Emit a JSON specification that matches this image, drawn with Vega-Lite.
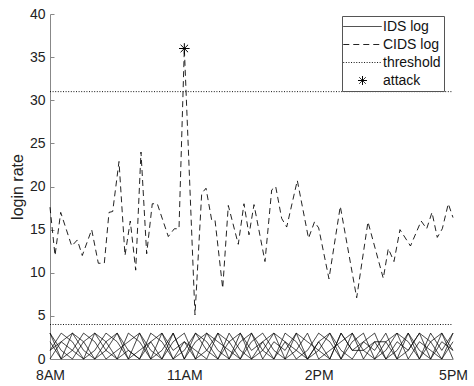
{
  "$schema": "https://vega.github.io/schema/vega-lite/v6.json",
  "width": 403,
  "height": 345,
  "autosize": "none",
  "padding": {"left": 50, "top": 14, "right": 21, "bottom": 27},
  "background": "white",
  "config": {
    "view": {"stroke": null},
    "font": "Liberation Sans",
    "axis": {"labelFont": "Liberation Sans", "titleFont": "Liberation Sans", "labelFontSize": 14, "titleFontSize": 16, "labelColor": "#222", "titleColor": "#222", "titleFontWeight": "normal", "domainColor": "#888", "tickColor": "#888", "grid": false},
    "legend": {"labelFont": "Liberation Sans", "labelFontSize": 14, "labelColor": "#111"}
  },
  "datasets": {
    "lines": [
      {"t":8,"v":31,"s":"threshold","g":"t1"},{"t":17,"v":31,"s":"threshold","g":"t1"},
      {"t":8,"v":4,"s":"threshold","g":"t2"},{"t":17,"v":4,"s":"threshold","g":"t2"},
      {"t":8.000,"v":17.6,"s":"CIDS log","g":"c"},
      {"t":8.112,"v":12.0,"s":"CIDS log","g":"c"},
      {"t":8.239,"v":17.0,"s":"CIDS log","g":"c"},
      {"t":8.485,"v":13.1,"s":"CIDS log","g":"c"},
      {"t":8.610,"v":13.8,"s":"CIDS log","g":"c"},
      {"t":8.721,"v":12.0,"s":"CIDS log","g":"c"},
      {"t":8.931,"v":15.0,"s":"CIDS log","g":"c"},
      {"t":9.079,"v":11.1,"s":"CIDS log","g":"c"},
      {"t":9.213,"v":11.1,"s":"CIDS log","g":"c"},
      {"t":9.318,"v":17.0,"s":"CIDS log","g":"c"},
      {"t":9.400,"v":17.1,"s":"CIDS log","g":"c"},
      {"t":9.541,"v":22.9,"s":"CIDS log","g":"c"},
      {"t":9.675,"v":12.0,"s":"CIDS log","g":"c"},
      {"t":9.793,"v":16.0,"s":"CIDS log","g":"c"},
      {"t":9.914,"v":10.3,"s":"CIDS log","g":"c"},
      {"t":10.032,"v":24.0,"s":"CIDS log","g":"c"},
      {"t":10.159,"v":12.2,"s":"CIDS log","g":"c"},
      {"t":10.284,"v":18.0,"s":"CIDS log","g":"c"},
      {"t":10.396,"v":18.0,"s":"CIDS log","g":"c"},
      {"t":10.642,"v":14.2,"s":"CIDS log","g":"c"},
      {"t":10.776,"v":15.1,"s":"CIDS log","g":"c"},
      {"t":10.881,"v":15.1,"s":"CIDS log","g":"c"},
      {"t":11.000,"v":36.0,"s":"CIDS log","g":"c"},
      {"t":11.238,"v":5.1,"s":"CIDS log","g":"c"},
      {"t":11.388,"v":19.2,"s":"CIDS log","g":"c"},
      {"t":11.484,"v":19.8,"s":"CIDS log","g":"c"},
      {"t":11.611,"v":16.1,"s":"CIDS log","g":"c"},
      {"t":11.685,"v":16.1,"s":"CIDS log","g":"c"},
      {"t":11.857,"v":8.2,"s":"CIDS log","g":"c"},
      {"t":11.982,"v":17.8,"s":"CIDS log","g":"c"},
      {"t":12.205,"v":13.3,"s":"CIDS log","g":"c"},
      {"t":12.332,"v":18.0,"s":"CIDS log","g":"c"},
      {"t":12.444,"v":14.4,"s":"CIDS log","g":"c"},
      {"t":12.556,"v":17.9,"s":"CIDS log","g":"c"},
      {"t":12.801,"v":11.3,"s":"CIDS log","g":"c"},
      {"t":12.951,"v":19.6,"s":"CIDS log","g":"c"},
      {"t":13.040,"v":20.0,"s":"CIDS log","g":"c"},
      {"t":13.174,"v":16.3,"s":"CIDS log","g":"c"},
      {"t":13.286,"v":15.3,"s":"CIDS log","g":"c"},
      {"t":13.523,"v":20.7,"s":"CIDS log","g":"c"},
      {"t":13.773,"v":14.0,"s":"CIDS log","g":"c"},
      {"t":13.907,"v":15.9,"s":"CIDS log","g":"c"},
      {"t":14.000,"v":15.2,"s":"CIDS log","g":"c"},
      {"t":14.230,"v":9.3,"s":"CIDS log","g":"c"},
      {"t":14.483,"v":17.7,"s":"CIDS log","g":"c"},
      {"t":14.849,"v":7.1,"s":"CIDS log","g":"c"},
      {"t":15.101,"v":15.9,"s":"CIDS log","g":"c"},
      {"t":15.443,"v":9.35,"s":"CIDS log","g":"c"},
      {"t":15.555,"v":12.8,"s":"CIDS log","g":"c"},
      {"t":15.682,"v":11.3,"s":"CIDS log","g":"c"},
      {"t":15.816,"v":15.0,"s":"CIDS log","g":"c"},
      {"t":16.050,"v":13.1,"s":"CIDS log","g":"c"},
      {"t":16.289,"v":16.0,"s":"CIDS log","g":"c"},
      {"t":16.412,"v":15.1,"s":"CIDS log","g":"c"},
      {"t":16.531,"v":17.0,"s":"CIDS log","g":"c"},
      {"t":16.649,"v":14.1,"s":"CIDS log","g":"c"},
      {"t":16.761,"v":15.1,"s":"CIDS log","g":"c"},
      {"t":16.895,"v":18.0,"s":"CIDS log","g":"c"},
      {"t":17.000,"v":16.4,"s":"CIDS log","g":"c"},

      {"t":8,"v":3,"s":"IDS log","g":"i1"},{"t":8.25,"v":1,"s":"IDS log","g":"i1"},{"t":8.5,"v":0,"s":"IDS log","g":"i1"},{"t":8.75,"v":2,"s":"IDS log","g":"i1"},{"t":9,"v":3,"s":"IDS log","g":"i1"},{"t":9.25,"v":1,"s":"IDS log","g":"i1"},{"t":9.5,"v":0,"s":"IDS log","g":"i1"},{"t":9.75,"v":3,"s":"IDS log","g":"i1"},{"t":10,"v":2,"s":"IDS log","g":"i1"},{"t":10.25,"v":0,"s":"IDS log","g":"i1"},
      {"t":10.5,"v":1,"s":"IDS log","g":"i1"},{"t":10.75,"v":3,"s":"IDS log","g":"i1"},{"t":11,"v":0,"s":"IDS log","g":"i1"},{"t":11.25,"v":2,"s":"IDS log","g":"i1"},{"t":11.5,"v":3,"s":"IDS log","g":"i1"},{"t":11.75,"v":1,"s":"IDS log","g":"i1"},{"t":12,"v":0,"s":"IDS log","g":"i1"},{"t":12.25,"v":3,"s":"IDS log","g":"i1"},{"t":12.5,"v":1,"s":"IDS log","g":"i1"},{"t":12.75,"v":2,"s":"IDS log","g":"i1"},
      {"t":13,"v":0,"s":"IDS log","g":"i1"},{"t":13.25,"v":3,"s":"IDS log","g":"i1"},{"t":13.5,"v":2,"s":"IDS log","g":"i1"},{"t":13.75,"v":0,"s":"IDS log","g":"i1"},{"t":14,"v":1,"s":"IDS log","g":"i1"},{"t":14.25,"v":3,"s":"IDS log","g":"i1"},{"t":14.5,"v":0,"s":"IDS log","g":"i1"},{"t":14.75,"v":2,"s":"IDS log","g":"i1"},{"t":15,"v":3,"s":"IDS log","g":"i1"},{"t":15.25,"v":0,"s":"IDS log","g":"i1"},
      {"t":15.5,"v":1,"s":"IDS log","g":"i1"},{"t":15.75,"v":3,"s":"IDS log","g":"i1"},{"t":16,"v":2,"s":"IDS log","g":"i1"},{"t":16.25,"v":0,"s":"IDS log","g":"i1"},{"t":16.5,"v":3,"s":"IDS log","g":"i1"},{"t":16.75,"v":1,"s":"IDS log","g":"i1"},{"t":17,"v":3,"s":"IDS log","g":"i1"},

      {"t":8,"v":1,"s":"IDS log","g":"i2"},{"t":8.25,"v":3,"s":"IDS log","g":"i2"},{"t":8.5,"v":2,"s":"IDS log","g":"i2"},{"t":8.75,"v":0,"s":"IDS log","g":"i2"},{"t":9,"v":1,"s":"IDS log","g":"i2"},{"t":9.25,"v":3,"s":"IDS log","g":"i2"},{"t":9.5,"v":2,"s":"IDS log","g":"i2"},{"t":9.75,"v":0,"s":"IDS log","g":"i2"},{"t":10,"v":3,"s":"IDS log","g":"i2"},{"t":10.25,"v":1,"s":"IDS log","g":"i2"},
      {"t":10.5,"v":0,"s":"IDS log","g":"i2"},{"t":10.75,"v":2,"s":"IDS log","g":"i2"},{"t":11,"v":3,"s":"IDS log","g":"i2"},{"t":11.25,"v":0,"s":"IDS log","g":"i2"},{"t":11.5,"v":1,"s":"IDS log","g":"i2"},{"t":11.75,"v":3,"s":"IDS log","g":"i2"},{"t":12,"v":2,"s":"IDS log","g":"i2"},{"t":12.25,"v":0,"s":"IDS log","g":"i2"},{"t":12.5,"v":3,"s":"IDS log","g":"i2"},{"t":12.75,"v":0,"s":"IDS log","g":"i2"},
      {"t":13,"v":2,"s":"IDS log","g":"i2"},{"t":13.25,"v":1,"s":"IDS log","g":"i2"},{"t":13.5,"v":3,"s":"IDS log","g":"i2"},{"t":13.75,"v":0,"s":"IDS log","g":"i2"},{"t":14,"v":2,"s":"IDS log","g":"i2"},{"t":14.25,"v":3,"s":"IDS log","g":"i2"},{"t":14.5,"v":1,"s":"IDS log","g":"i2"},{"t":14.75,"v":0,"s":"IDS log","g":"i2"},{"t":15,"v":2,"s":"IDS log","g":"i2"},{"t":15.25,"v":1,"s":"IDS log","g":"i2"},
      {"t":15.5,"v":3,"s":"IDS log","g":"i2"},{"t":15.75,"v":0,"s":"IDS log","g":"i2"},{"t":16,"v":1,"s":"IDS log","g":"i2"},{"t":16.25,"v":3,"s":"IDS log","g":"i2"},{"t":16.5,"v":0,"s":"IDS log","g":"i2"},{"t":16.75,"v":2,"s":"IDS log","g":"i2"},{"t":17,"v":1,"s":"IDS log","g":"i2"},

      {"t":8,"v":2,"s":"IDS log","g":"i3"},{"t":8.25,"v":0,"s":"IDS log","g":"i3"},{"t":8.5,"v":3,"s":"IDS log","g":"i3"},{"t":8.75,"v":1,"s":"IDS log","g":"i3"},{"t":9,"v":0,"s":"IDS log","g":"i3"},{"t":9.25,"v":2,"s":"IDS log","g":"i3"},{"t":9.5,"v":3,"s":"IDS log","g":"i3"},{"t":9.75,"v":1,"s":"IDS log","g":"i3"},{"t":10,"v":0,"s":"IDS log","g":"i3"},{"t":10.25,"v":3,"s":"IDS log","g":"i3"},
      {"t":10.5,"v":2,"s":"IDS log","g":"i3"},{"t":10.75,"v":0,"s":"IDS log","g":"i3"},{"t":11,"v":1,"s":"IDS log","g":"i3"},{"t":11.25,"v":3,"s":"IDS log","g":"i3"},{"t":11.5,"v":2,"s":"IDS log","g":"i3"},{"t":11.75,"v":0,"s":"IDS log","g":"i3"},{"t":12,"v":3,"s":"IDS log","g":"i3"},{"t":12.25,"v":1,"s":"IDS log","g":"i3"},{"t":12.5,"v":0,"s":"IDS log","g":"i3"},{"t":12.75,"v":2,"s":"IDS log","g":"i3"},
      {"t":13,"v":3,"s":"IDS log","g":"i3"},{"t":13.25,"v":0,"s":"IDS log","g":"i3"},{"t":13.5,"v":1,"s":"IDS log","g":"i3"},{"t":13.75,"v":3,"s":"IDS log","g":"i3"},{"t":14,"v":0,"s":"IDS log","g":"i3"},{"t":14.25,"v":1,"s":"IDS log","g":"i3"},{"t":14.5,"v":2,"s":"IDS log","g":"i3"},{"t":14.75,"v":3,"s":"IDS log","g":"i3"},{"t":15,"v":0,"s":"IDS log","g":"i3"},{"t":15.25,"v":2,"s":"IDS log","g":"i3"},
      {"t":15.5,"v":0,"s":"IDS log","g":"i3"},{"t":15.75,"v":1,"s":"IDS log","g":"i3"},{"t":16,"v":3,"s":"IDS log","g":"i3"},{"t":16.25,"v":0,"s":"IDS log","g":"i3"},{"t":16.5,"v":2,"s":"IDS log","g":"i3"},{"t":16.75,"v":3,"s":"IDS log","g":"i3"},{"t":17,"v":0,"s":"IDS log","g":"i3"},

      {"t":8,"v":0,"s":"IDS log","g":"i4"},{"t":8.25,"v":2,"s":"IDS log","g":"i4"},{"t":8.5,"v":1,"s":"IDS log","g":"i4"},{"t":8.75,"v":3,"s":"IDS log","g":"i4"},{"t":9,"v":2,"s":"IDS log","g":"i4"},{"t":9.25,"v":0,"s":"IDS log","g":"i4"},{"t":9.5,"v":1,"s":"IDS log","g":"i4"},{"t":9.75,"v":2,"s":"IDS log","g":"i4"},{"t":10,"v":3,"s":"IDS log","g":"i4"},{"t":10.25,"v":0,"s":"IDS log","g":"i4"},
      {"t":10.5,"v":3,"s":"IDS log","g":"i4"},{"t":10.75,"v":1,"s":"IDS log","g":"i4"},{"t":11,"v":2,"s":"IDS log","g":"i4"},{"t":11.25,"v":0,"s":"IDS log","g":"i4"},{"t":11.5,"v":3,"s":"IDS log","g":"i4"},{"t":11.75,"v":2,"s":"IDS log","g":"i4"},{"t":12,"v":1,"s":"IDS log","g":"i4"},{"t":12.25,"v":0,"s":"IDS log","g":"i4"},{"t":12.5,"v":2,"s":"IDS log","g":"i4"},{"t":12.75,"v":3,"s":"IDS log","g":"i4"},
      {"t":13,"v":1,"s":"IDS log","g":"i4"},{"t":13.25,"v":0,"s":"IDS log","g":"i4"},{"t":13.5,"v":3,"s":"IDS log","g":"i4"},{"t":13.75,"v":2,"s":"IDS log","g":"i4"},{"t":14,"v":1,"s":"IDS log","g":"i4"},{"t":14.25,"v":0,"s":"IDS log","g":"i4"},{"t":14.5,"v":3,"s":"IDS log","g":"i4"},{"t":14.75,"v":1,"s":"IDS log","g":"i4"},{"t":15,"v":1,"s":"IDS log","g":"i4"},{"t":15.25,"v":2,"s":"IDS log","g":"i4"},
      {"t":15.5,"v":2,"s":"IDS log","g":"i4"},{"t":15.75,"v":3,"s":"IDS log","g":"i4"},{"t":16,"v":0,"s":"IDS log","g":"i4"},{"t":16.25,"v":2,"s":"IDS log","g":"i4"},{"t":16.5,"v":1,"s":"IDS log","g":"i4"},{"t":16.75,"v":0,"s":"IDS log","g":"i4"},{"t":17,"v":2,"s":"IDS log","g":"i4"},

      {"t":8,"v":3,"s":"IDS log","g":"i5"},{"t":8.25,"v":0,"s":"IDS log","g":"i5"},{"t":8.5,"v":1,"s":"IDS log","g":"i5"},{"t":8.75,"v":0,"s":"IDS log","g":"i5"},{"t":9,"v":3,"s":"IDS log","g":"i5"},{"t":9.25,"v":2,"s":"IDS log","g":"i5"},{"t":9.5,"v":0,"s":"IDS log","g":"i5"},{"t":9.75,"v":1,"s":"IDS log","g":"i5"},{"t":10,"v":0,"s":"IDS log","g":"i5"},{"t":10.25,"v":2,"s":"IDS log","g":"i5"},
      {"t":10.5,"v":3,"s":"IDS log","g":"i5"},{"t":10.75,"v":0,"s":"IDS log","g":"i5"},{"t":11,"v":2,"s":"IDS log","g":"i5"},{"t":11.25,"v":1,"s":"IDS log","g":"i5"},{"t":11.5,"v":0,"s":"IDS log","g":"i5"},{"t":11.75,"v":3,"s":"IDS log","g":"i5"},{"t":12,"v":0,"s":"IDS log","g":"i5"},{"t":12.25,"v":2,"s":"IDS log","g":"i5"},{"t":12.5,"v":3,"s":"IDS log","g":"i5"},{"t":12.75,"v":1,"s":"IDS log","g":"i5"},
      {"t":13,"v":0,"s":"IDS log","g":"i5"},{"t":13.25,"v":2,"s":"IDS log","g":"i5"},{"t":13.5,"v":0,"s":"IDS log","g":"i5"},{"t":13.75,"v":1,"s":"IDS log","g":"i5"},{"t":14,"v":3,"s":"IDS log","g":"i5"},{"t":14.25,"v":2,"s":"IDS log","g":"i5"},{"t":14.5,"v":0,"s":"IDS log","g":"i5"},{"t":14.75,"v":3,"s":"IDS log","g":"i5"},{"t":15,"v":1,"s":"IDS log","g":"i5"},{"t":15.25,"v":0,"s":"IDS log","g":"i5"},
      {"t":15.5,"v":2,"s":"IDS log","g":"i5"},{"t":15.75,"v":0,"s":"IDS log","g":"i5"},{"t":16,"v":3,"s":"IDS log","g":"i5"},{"t":16.25,"v":1,"s":"IDS log","g":"i5"},{"t":16.5,"v":0,"s":"IDS log","g":"i5"},{"t":16.75,"v":3,"s":"IDS log","g":"i5"},{"t":17,"v":1,"s":"IDS log","g":"i5"},

      {"t":8,"v":1,"s":"IDS log","g":"i6"},{"t":8.25,"v":2,"s":"IDS log","g":"i6"},{"t":8.5,"v":3,"s":"IDS log","g":"i6"},{"t":8.75,"v":2,"s":"IDS log","g":"i6"},{"t":9,"v":0,"s":"IDS log","g":"i6"},{"t":9.25,"v":1,"s":"IDS log","g":"i6"},{"t":9.5,"v":3,"s":"IDS log","g":"i6"},{"t":9.75,"v":0,"s":"IDS log","g":"i6"},{"t":10,"v":1,"s":"IDS log","g":"i6"},{"t":10.25,"v":2,"s":"IDS log","g":"i6"},
      {"t":10.5,"v":0,"s":"IDS log","g":"i6"},{"t":10.75,"v":3,"s":"IDS log","g":"i6"},{"t":11,"v":0,"s":"IDS log","g":"i6"},{"t":11.25,"v":3,"s":"IDS log","g":"i6"},{"t":11.5,"v":1,"s":"IDS log","g":"i6"},{"t":11.75,"v":0,"s":"IDS log","g":"i6"},{"t":12,"v":2,"s":"IDS log","g":"i6"},{"t":12.25,"v":3,"s":"IDS log","g":"i6"},{"t":12.5,"v":0,"s":"IDS log","g":"i6"},{"t":12.75,"v":1,"s":"IDS log","g":"i6"},
      {"t":13,"v":3,"s":"IDS log","g":"i6"},{"t":13.25,"v":2,"s":"IDS log","g":"i6"},{"t":13.5,"v":1,"s":"IDS log","g":"i6"},{"t":13.75,"v":0,"s":"IDS log","g":"i6"},{"t":14,"v":2,"s":"IDS log","g":"i6"},{"t":14.25,"v":0,"s":"IDS log","g":"i6"},{"t":14.5,"v":3,"s":"IDS log","g":"i6"},{"t":14.75,"v":1,"s":"IDS log","g":"i6"},{"t":15,"v":2,"s":"IDS log","g":"i6"},{"t":15.25,"v":3,"s":"IDS log","g":"i6"},
      {"t":15.5,"v":0,"s":"IDS log","g":"i6"},{"t":15.75,"v":2,"s":"IDS log","g":"i6"},{"t":16,"v":1,"s":"IDS log","g":"i6"},{"t":16.25,"v":3,"s":"IDS log","g":"i6"},{"t":16.5,"v":2,"s":"IDS log","g":"i6"},{"t":16.75,"v":0,"s":"IDS log","g":"i6"},{"t":17,"v":3,"s":"IDS log","g":"i6"}
    ],
    "attack": [
      {"t":11,"v":36,"s":"attack"}
    ]
  },
  "layer": [
    {
      "data": {"name": "lines"},
      "mark": {"type": "line", "color": "black", "clip": false},
      "encoding": {
        "x": {"field": "t", "type": "quantitative", "scale": {"domain": [8, 17], "nice": false, "zero": false},
              "axis": {"title": null, "values": [8, 11, 14, 17], "ticks": false, "labelPadding": 9, "labelFlush": false, "labelFontSize": 14,
                       "labelExpr": "datum.value == 8 ? '8AM' : datum.value == 11 ? '11AM' : datum.value == 14 ? '2PM' : '5PM'"}},
        "y": {"field": "v", "type": "quantitative", "scale": {"domain": [0, 40], "nice": false},
              "axis": {"title": "login rate", "titleFontSize": 16, "titleFontWeight": "normal", "titleColor": "#222", "values": [0,5,10,15,20,25,30,35,40], "tickSize": -4, "labelPadding": 9, "labelFontSize": 14, "titlePadding": 4}},
        "detail": {"field": "g"},
        "strokeDash": {"field": "s", "type": "nominal",
                       "scale": {"domain": ["IDS log", "CIDS log", "threshold", "attack"], "range": [[1, 0], [6, 4], [1, 1.6], [1, 0]]},
                       "legend": {"title": null, "orient": "none", "legendX": 292, "legendY": 2, "padding": 3,
                                  "strokeColor": "#555", "fillColor": "white", "symbolSize": 196, "symbolStrokeWidth": 1,
                                  "symbolStrokeColor": "black", "symbolOffset": 10, "labelOffset": 13, "rowPadding": 3}},
        "strokeWidth": {"field": "s", "type": "nominal", "scale": {"domain": ["IDS log", "CIDS log", "threshold", "attack"], "range": [0.8, 1, 1, 1]}, "legend": null}
      }
    },
    {
      "data": {"name": "attack"},
      "mark": {"type": "point", "filled": false, "color": "black", "strokeWidth": 1, "size": 275, "opacity": 1},
      "encoding": {
        "x": {"field": "t", "type": "quantitative"},
        "y": {"field": "v", "type": "quantitative"},
        "shape": {"field": "s", "type": "nominal",
                  "scale": {"domain": ["IDS log", "CIDS log", "threshold", "attack"],
                            "range": ["M-2.75,0H2.75", "M-2.75,0H2.75", "M-2.75,0H2.75", "M-0.64,0H0.64M0,-0.64V0.64M-0.45,-0.45L0.45,0.45M-0.45,0.45L0.45,-0.45"]},
                  "legend": {"title": null, "orient": "none", "legendX": 292, "legendY": 2, "padding": 3,
                             "strokeColor": "#555", "fillColor": "white", "symbolSize": 196, "symbolStrokeWidth": 1,
                             "symbolStrokeColor": "black", "symbolOffset": 10, "labelOffset": 13, "rowPadding": 3}}
      }
    }
  ]
}
